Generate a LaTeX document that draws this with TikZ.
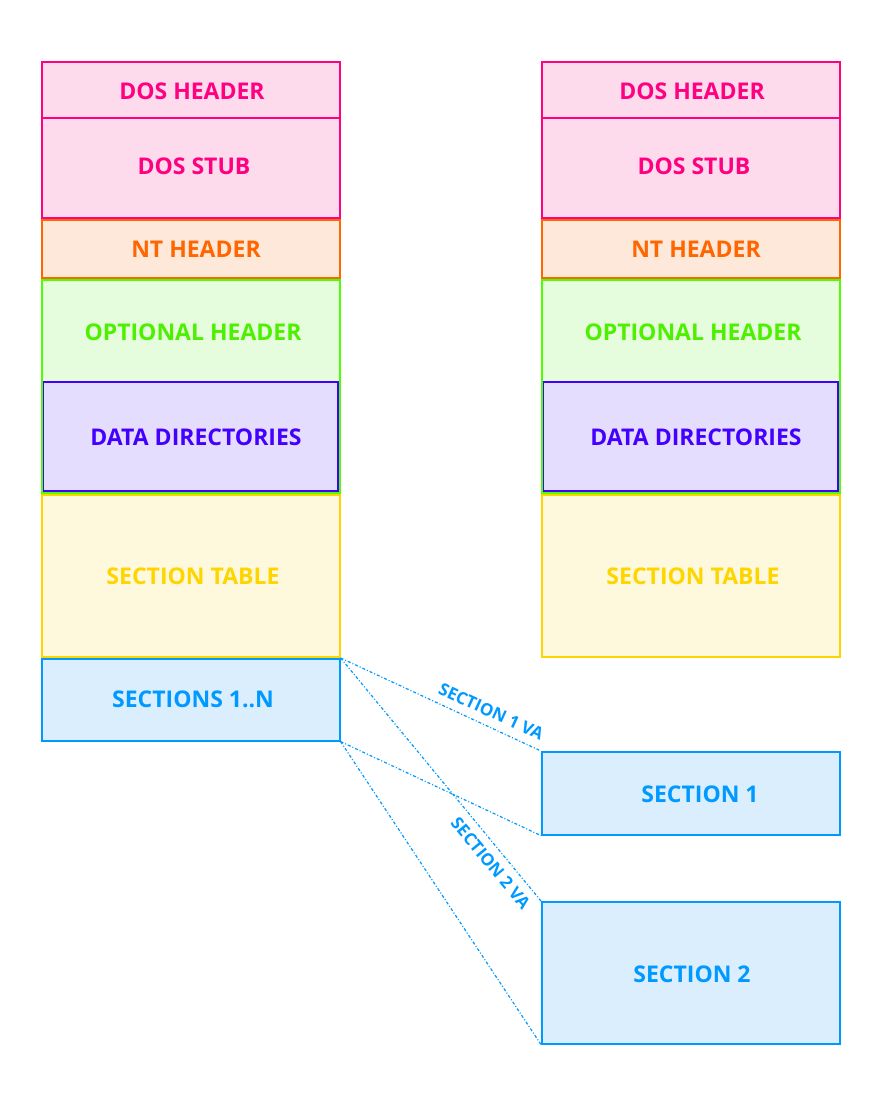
\documentclass[tikz,border=0pt]{standalone}
\usepackage{fontspec}
\setmainfont{Open Sans}
\definecolor{pinkD}{RGB}{255,0,128}
\definecolor{pinkF}{RGB}{253,218,236}
\definecolor{orangeD}{RGB}{255,102,0}
\definecolor{orangeF}{RGB}{253,232,218}
\definecolor{greenD}{RGB}{77,255,0}
\definecolor{greenT}{RGB}{77,240,0}
\definecolor{greenF}{RGB}{229,253,220}
\definecolor{purpleD}{RGB}{68,0,255}
\definecolor{purpleF}{RGB}{229,221,253}
\definecolor{yellowD}{RGB}{255,213,0}
\definecolor{yellowF}{RGB}{254,249,220}
\definecolor{blueD}{RGB}{0,153,255}
\definecolor{blueF}{RGB}{219,238,253}
\begin{document}
\begin{tikzpicture}[x=1pt,y=-1pt,
  box/.style={rectangle, draw, line width=1.6pt, inner sep=0pt, anchor=north west, minimum width=298pt},
  txt/.style={font=\fontsize{23}{23}\selectfont\bfseries, inner sep=0pt},
  lbl/.style={font=\fontsize{17}{17}\selectfont\bfseries, text=blueD, sloped, inner sep=0pt},
  link/.style={draw=blueD, line width=1.2pt, dash pattern=on 3pt off 2pt on 1pt off 2pt}]
\useasboundingbox (0,0) rectangle (880,1100);
\foreach \s/\dx in {L/0,R/500}{
  \node[box, draw=pinkD, fill=pinkF, minimum height=56pt] (doshdr\s) at (41+\dx,61) {};
  \node[box, draw=pinkD, fill=pinkF, minimum height=100pt] (dosstub\s) at (41+\dx,117) {};
  \node[box, draw=orangeD, fill=orangeF, minimum height=58pt] (nthdr\s) at (41+\dx,219) {};
  \node[box, draw=greenD, fill=greenF, minimum height=213pt] (opthdr\s) at (41+\dx,279) {};
  \node[box, draw=purpleD, fill=purpleF, minimum height=109pt, minimum width=294.5pt] (datadir\s) at (42.5+\dx,381) {};
  \node[box, draw=yellowD, fill=yellowF, minimum height=162pt] (sectab\s) at (41+\dx,494) {};
  \node[txt, text=pinkD] (doshdrT\s) at (192+\dx,91.7) {DOS HEADER};
  \node[txt, text=pinkD] (dosstubT\s) at (194+\dx,166.7) {DOS STUB};
  \node[txt, text=orangeD] (nthdrT\s) at (196+\dx,249.5) {NT HEADER};
  \node[txt, text=greenT] (opthdrT\s) at (193+\dx,332.7) {OPTIONAL HEADER};
  \node[txt, text=purpleD] (datadirT\s) at (196+\dx,437.7) {DATA DIRECTORIES};
  \node[txt, text=yellowD] (sectabT\s) at (193+\dx,576.7) {SECTION TABLE};
}
\node[box, draw=blueD, fill=blueF, minimum height=82pt] (secs) at (41,658) {};
\node[txt, text=blueD] (secsT) at (193,699.5) {SECTIONS 1..N};
\node[box, draw=blueD, fill=blueF, minimum height=83pt] (sec1) at (541,751) {};
\node[txt, text=blueD] (sec1T) at (700,794.7) {SECTION 1};
\node[box, draw=blueD, fill=blueF, minimum height=142pt] (sec2) at (541,901) {};
\node[txt, text=blueD] (sec2T) at (692,974.7) {SECTION 2};
\draw[link] (secs.north east) -- node[lbl, pos=0.72, above=8pt] (va1) {SECTION 1 VA} (sec1.north west);
\draw[link] (secs.south east) -- (sec1.south west);
\draw[link] (secs.north east) -- node[lbl, pos=0.806, below=8pt] (va2) {SECTION 2 VA} (sec2.north west);
\draw[link] (secs.south east) -- (sec2.south west);
\end{tikzpicture}
\end{document}
